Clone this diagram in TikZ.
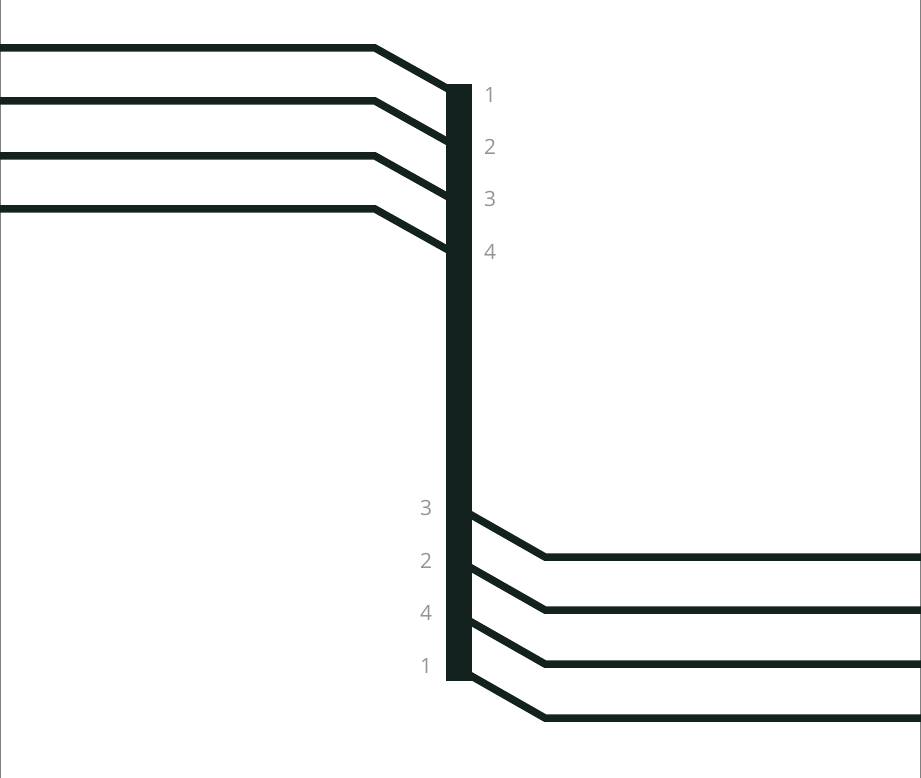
\documentclass[tikz,border=0pt]{standalone}
\usepackage{fontspec}
\setmainfont{Open Sans}
\usepackage{tikz}
\usetikzlibrary{positioning}

\definecolor{wire}{HTML}{13221F}
\definecolor{pinnum}{HTML}{949494}

\tikzset{
  wire/.style={draw=wire, line width=7.5pt},
  pinlabel/.style={text=pinnum, font=\fontsize{21}{24}\selectfont, inner sep=0pt}
}

\begin{document}
\begin{tikzpicture}[x=1pt, y=-1pt]
			\useasboundingbox (0,0) rectangle (921,778);
			\draw[gray, line width=1.2pt] (0.6,0) -- (0.6,778);
			\draw[gray, line width=1.2pt] (920.4,0) -- (920.4,778);
			% incoming wires
			\coordinate (a1) at (0,48);
			\coordinate (a2) at (0,101);
			\coordinate (a3) at (0,156);
			\coordinate (a4) at (0,209);
			\draw[wire] (a1) -- (375,48) -- (459,95);
			\draw[wire] (a2) -- (375,101) -- (459,148);
			\draw[wire] (a3) -- (375,156) -- (459,203);
			\draw[wire] (a4) -- (375,209) -- (459,256);
			% outgoing wires
			\coordinate (b3) at (921,557);
			\coordinate (b2) at (921,610);
			\coordinate (b4) at (921,664);
			\coordinate (b1) at (921,718);
			\draw[wire] (b3) -- (545,557) -- (459,508);
			\draw[wire] (b2) -- (545,610) -- (459,561);
			\draw[wire] (b4) -- (545,664) -- (459,615);
			\draw[wire] (b1) -- (545,718) -- (459,669);
			\node[fill=wire, minimum width=26pt, minimum height=597pt, inner sep=0pt] (bar) at (459,382.5) {};
			% pin numbers
			\node[pinlabel] (in1) at (490,95) {1};
			\node[pinlabel] (in2) at (490,147) {2};
			\node[pinlabel] (in3) at (490,199) {3};
			\node[pinlabel] (in4) at (490,252) {4};
			\node[pinlabel] (out3) at (426,508) {3};
			\node[pinlabel] (out2) at (426,561) {2};
			\node[pinlabel] (out4) at (426,613) {4};
			\node[pinlabel] (out1) at (426,666) {1};
		\end{tikzpicture}
\end{document}
